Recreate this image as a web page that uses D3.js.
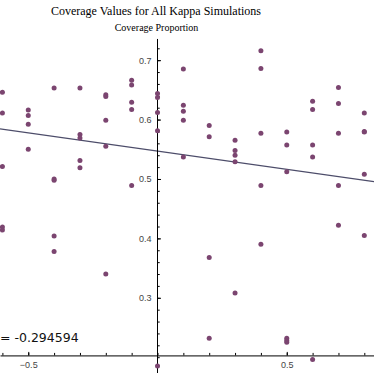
<!DOCTYPE html>
<html>
<head>
<meta charset="utf-8">
<script src="https://cdn.jsdelivr.net/npm/d3@7"></script>
<style>
  html, body { margin: 0; padding: 0; background: #fff; }
  svg { display: block; }
</style>
</head>
<body>
<svg id="chart" width="374" height="374"></svg>
<script>
// kappa offsets (x) and the coverage values seen at each one
var kappa = [-0.6, -0.5, -0.4, -0.3, -0.2, -0.1, 0, 0.1, 0.2, 0.3, 0.4, 0.5, 0.6, 0.7, 0.8];
var coverage = [
  [0.646, 0.611, 0.521, 0.419, 0.414],
  [0.616, 0.607, 0.592, 0.550],
  [0.653, 0.500, 0.498, 0.404, 0.378],
  [0.653, 0.575, 0.569, 0.531, 0.519],
  [0.642, 0.639, 0.599, 0.555, 0.340],
  [0.666, 0.658, 0.629, 0.617, 0.489],
  [0.644, 0.637, 0.612, 0.581, 0.185],
  [0.685, 0.624, 0.614, 0.599, 0.537],
  [0.590, 0.571, 0.368, 0.232],
  [0.565, 0.548, 0.540, 0.529, 0.308],
  [0.716, 0.686, 0.577, 0.489, 0.390],
  [0.579, 0.557, 0.512, 0.232, 0.228, 0.225],
  [0.631, 0.617, 0.557, 0.537, 0.196],
  [0.654, 0.627, 0.577, 0.489, 0.422],
  [0.611, 0.580, 0.579, 0.508, 0.405]
];

// least squares fit drawn across the plot
var fitIntercept = 0.547;
var fitSlope = -0.0614;
var corrText = "= -0.294594";

var xTicksMajor = [-0.5, 0.5];
var yTicksMajor = [0.3, 0.4, 0.5, 0.6, 0.7];

var W = 374, H = 374;
var svg = d3.select('#chart');

var x = d3.scaleLinear().domain([-0.6093, 0.8375]).range([0, W]);
var y = d3.scaleLinear().domain([0.1717, 0.8013]).range([H, 0]);

var xAxisAt = 0.203;   // where the horizontal axis crosses
var yAxisTop = 0.7357; // top end of the vertical axis

var points = [];
kappa.forEach(function(k, i) {
  coverage[i].forEach(function(v) { points.push({k: k, v: v}); });
});

// fit line
svg.append('line')
  .attr('x1', x(x.domain()[0]))
  .attr('y1', y(fitIntercept + fitSlope * x.domain()[0]))
  .attr('x2', x(x.domain()[1]))
  .attr('y2', y(fitIntercept + fitSlope * x.domain()[1]))
  .attr('stroke', '#4d4d6a')
  .attr('stroke-width', 1.1);

// x axis (ticks point up into the plot)
var xg = svg.append('g').attr('transform', 'translate(0,' + y(xAxisAt) + ')');
xg.call(d3.axisBottom(x).tickValues(d3.range(-6, 9).map(function(d) { return d / 10; }))
  .tickSizeInner(-2.5).tickSizeOuter(0).tickFormat(''));
xg.append('g').call(d3.axisBottom(x).tickValues(xTicksMajor)
  .tickSizeInner(-3.5).tickSizeOuter(0).tickPadding(6.5).tickFormat(d3.format('.1f')))
  .select('.domain').remove();

// y axis (ticks point right, labels on the left)
var yg = svg.append('g').attr('transform', 'translate(' + x(0) + ',0)');
yg.append('line')
  .attr('y1', y(yAxisTop))
  .attr('y2', H - 1)
  .attr('stroke', '#000');
yg.append('g').call(d3.axisLeft(y).tickValues(d3.range(10, 37).map(function(d) { return d / 50; }))
  .tickSizeInner(-2.2).tickSizeOuter(0).tickFormat(''))
  .select('.domain').remove();
yg.append('g').call(d3.axisLeft(y).tickValues(yTicksMajor)
  .tickSizeInner(-3.5).tickSizeOuter(0).tickPadding(6).tickFormat(d3.format('.1f')))
  .select('.domain').remove();

svg.selectAll('.tick line').attr('stroke', '#000');
svg.selectAll('.tick text')
  .attr('fill', '#444')
  .style('font-family', '"Liberation Sans", Arial, sans-serif')
  .style('font-size', '9px');
svg.selectAll('.domain').attr('stroke', '#000');

// data points
svg.append('g').selectAll('circle')
  .data(points)
  .enter().append('circle')
  .attr('cx', function(d) { return x(d.k); })
  .attr('cy', function(d) { return y(d.v); })
  .attr('r', 2.5)
  .attr('fill', '#7b4570');

// title + axis label
svg.append('text')
  .attr('x', 156).attr('y', 14.5)
  .attr('text-anchor', 'middle')
  .style('font-family', '"Liberation Serif", "Times New Roman", serif')
  .style('font-size', '12px')
  .text('Coverage Values for All Kappa Simulations');

svg.append('text')
  .attr('x', 156.5).attr('y', 30.5)
  .attr('text-anchor', 'middle')
  .style('font-family', '"Liberation Serif", "Times New Roman", serif')
  .style('font-size', '10px')
  .text('Coverage Proportion');

// correlation readout (cut off on the left in the original)
svg.append('text')
  .attr('x', 0).attr('y', 342)
  .style('font-family', '"DejaVu Sans", sans-serif')
  .style('font-size', '12.5px')
  .attr('fill', '#111')
  .text(corrText);
</script>
</body>
</html>
